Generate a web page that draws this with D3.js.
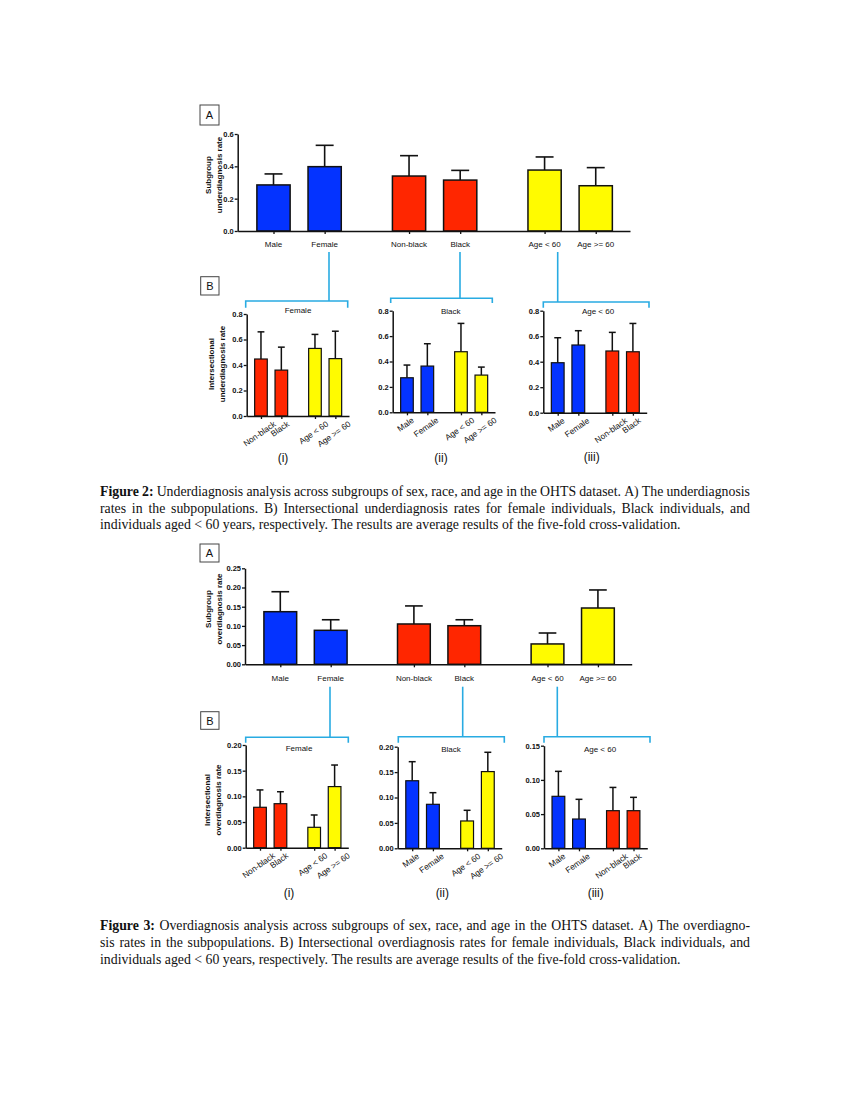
<!DOCTYPE html>
<html>
<head>
<meta charset="utf-8">
<script src="https://cdn.jsdelivr.net/npm/d3@7"></script>
<style>
  html, body { margin: 0; padding: 0; background: #fff; }
  svg text { font-family: Arial, "Liberation Sans", Helvetica, sans-serif; }
  svg text.cap { font-family: "Liberation Serif", "Times New Roman", serif; }
</style>
</head>
<body>
<svg id="chart" width="850" height="1100"></svg>
<script>
// ---------------- DATA ----------------
const subgroupCategories = ["Male", "Female", "Non-black", "Black", "Age < 60", "Age >= 60"];
const subgroupGroups = ["sex", "sex", "race", "race", "age", "age"];

// Figure 2 (underdiagnosis)
const underA_values = [0.285, 0.398, 0.340, 0.315, 0.377, 0.280];
const underA_errors = [0.068, 0.132, 0.126, 0.060, 0.081, 0.112];

const femaleCategories = ["Non-black", "Black", "Age < 60", "Age >= 60"];
const blackCategories = ["Male", "Female", "Age < 60", "Age >= 60"];
const ageCategories = ["Male", "Female", "Non-black", "Black"];

const underFemale_values = [0.447, 0.360, 0.530, 0.450];
const underFemale_errors = [0.213, 0.180, 0.110, 0.215];
const underBlack_values = [0.272, 0.364, 0.477, 0.293];
const underBlack_errors = [0.100, 0.176, 0.223, 0.063];
const underAge_values = [0.392, 0.531, 0.484, 0.478];
const underAge_errors = [0.196, 0.112, 0.146, 0.222];

// Figure 3 (overdiagnosis)
const overA_values = [0.137, 0.0885, 0.105, 0.1005, 0.053, 0.1466];
const overA_errors = [0.052, 0.0275, 0.047, 0.0155, 0.0285, 0.047];

const overFemale_values = [0.0787, 0.0857, 0.0397, 0.119];
const overFemale_errors = [0.0338, 0.0233, 0.0240, 0.042];
const overBlack_values = [0.133, 0.0866, 0.0538, 0.151];
const overBlack_errors = [0.0375, 0.0229, 0.0210, 0.038];
const overAge_values = [0.076, 0.0428, 0.055, 0.055];
const overAge_errors = [0.0365, 0.0288, 0.034, 0.0195];

const underTicksA = [0, 0.2, 0.4, 0.6];
const underTicksB = [0, 0.2, 0.4, 0.6, 0.8];
const overTicksA = [0, 0.05, 0.10, 0.15, 0.20, 0.25];
const overTicksB = [0, 0.05, 0.10, 0.15, 0.20];
const overTicksBage = [0, 0.05, 0.10, 0.15];

const groupOf = { "Male": "sex", "Female": "sex", "Non-black": "race", "Black": "race", "Age < 60": "age", "Age >= 60": "age" };
const groupColor = { sex: "#0433FF", race: "#FF2600", age: "#FFFB00" };

// ---------------- DRAWING ----------------
const svg = d3.select("#chart");
const CYAN = "#29abe2";

function slots(cats) {
  let gaps = 0;
  return cats.map((c, i) => {
    if (i > 0 && groupOf[c] !== groupOf[cats[i - 1]]) gaps++;
    return i + gaps * 0.65;
  });
}

function panel(o) {
  const s = slots(o.cats);
  const x = d3.scaleLinear().domain([-0.7, s[s.length - 1] + 0.67]).range([o.x0, o.x1]);
  const y = d3.scaleLinear().domain([0, o.ymax]).range([o.yBot, o.yTop]);
  const g = svg.append("g");
  const pitch = x(1) - x(0);
  const bw = pitch * o.barFrac;
  const data = o.cats.map((c, i) => ({ c, v: o.vals[i], e: o.errs[i], s: s[i] }));

  const eg = g.append("g").attr("stroke", "#111").attr("stroke-width", o.ew);
  eg.selectAll("line.v").data(data).join("line")
    .attr("x1", d => x(d.s)).attr("x2", d => x(d.s))
    .attr("y1", d => y(d.v)).attr("y2", d => y(d.v + d.e));
  eg.selectAll("line.c").data(data).join("line")
    .attr("x1", d => x(d.s) - bw * 0.27).attr("x2", d => x(d.s) + bw * 0.27)
    .attr("y1", d => y(d.v + d.e)).attr("y2", d => y(d.v + d.e));

  g.append("g").selectAll("rect").data(data).join("rect")
    .attr("x", d => x(d.s) - bw / 2).attr("width", bw)
    .attr("y", d => y(d.v)).attr("height", d => y(0) - y(d.v))
    .attr("fill", d => groupColor[groupOf[d.c]])
    .attr("stroke", "#111").attr("stroke-width", o.bs);

  const ya = g.append("g").attr("transform", `translate(${o.x0},0)`)
    .call(d3.axisLeft(y).tickValues(o.ticks).tickFormat(d3.format(o.fmt)).tickSize(3).tickSizeOuter(0));
  ya.select(".domain").attr("stroke", "#111").attr("stroke-width", 1.5);
  ya.selectAll(".tick line").attr("stroke", "#111").attr("stroke-width", 1.3);
  ya.selectAll(".tick text").attr("font-size", 7.5).attr("font-weight", "bold").attr("fill", "#111")
    .attr("x", -4).attr("font-family", "Arial, 'Liberation Sans', sans-serif");

  const xa = g.append("g").attr("transform", `translate(0,${o.yBot})`)
    .call(d3.axisBottom(x).tickValues(s).tickFormat("").tickSize(3).tickSizeOuter(0));
  xa.select(".domain").attr("stroke", "#111").attr("stroke-width", 1.5);
  xa.selectAll(".tick line").attr("stroke", "#111").attr("stroke-width", 1.3);

  if (o.rotate) {
    data.forEach(d => {
      const t = g.append("text").attr("font-size", 8.3).attr("fill", "#111")
        .attr("text-anchor", "middle").attr("dominant-baseline", "middle").text(d.c);
      const L = t.node().getComputedTextLength();
      const cy = o.yBot + 7.5 + (L / 2) * Math.sin(35 * Math.PI / 180);
      t.attr("transform", `translate(${x(d.s) - 1},${cy}) rotate(-35)`);
    });
  } else {
    g.selectAll("text.cat").data(data).join("text").attr("class", "cat")
      .attr("x", d => x(d.s)).attr("y", o.labelY)
      .attr("text-anchor", "middle").attr("font-size", 8).attr("fill", "#111")
      .text(d => d.c);
  }

  if (o.ylab) {
    o.ylab.forEach((line, i) => {
      g.append("text").attr("transform", `translate(${o.ylabX[i]},${o.ylabY}) rotate(-90)`)
        .attr("text-anchor", "middle").attr("font-size", 8).attr("font-weight", "bold").attr("fill", "#111")
        .text(line);
    });
  }
  if (o.title) {
    g.append("text").attr("x", o.title[1]).attr("y", o.title[2] + 3).attr("text-anchor", "middle")
      .attr("font-size", 8).attr("fill", "#111").text(o.title[0]);
  }
  if (o.roman) {
    g.append("text").attr("x", o.roman[1]).attr("y", o.roman[2] + 4.5).attr("text-anchor", "middle")
      .attr("font-size", 12).attr("fill", "#111").text(o.roman[0]);
  }
  if (o.bracket) {
    const b = o.bracket;
    svg.append("path").attr("fill", "none").attr("stroke", CYAN).attr("stroke-width", 1.6)
      .attr("d", `M${b.xl},${b.yt} V${b.y} H${b.xr} V${b.yt}`);
    svg.append("line").attr("stroke", CYAN).attr("stroke-width", 1.6)
      .attr("x1", b.cx).attr("x2", b.cx).attr("y1", b.cy0).attr("y2", b.y);
  }
}

function box(x, yy, w, h, letter) {
  svg.append("rect").attr("x", x).attr("y", yy).attr("width", w).attr("height", h)
    .attr("fill", "none").attr("stroke", "#444").attr("stroke-width", 1);
  svg.append("text").attr("x", x + w / 2).attr("y", yy + h / 2 + 4).attr("text-anchor", "middle")
    .attr("font-size", 11).attr("fill", "#111").text(letter);
}

// ---- Figure 2 ----
box(200, 105, 19, 20, "A");
panel({ cats: subgroupCategories, vals: underA_values, errs: underA_errors, x0: 237.7, x1: 630, yTop: 134, yBot: 231,
  ymax: 0.6, ticks: underTicksA, fmt: ".1f", barFrac: 0.65, bs: 1.5, ew: 1.6, labelY: 247,
  ylab: ["Subgroup", "underdiagnosis rate"], ylabX: [211, 222], ylabY: 175 });

box(200.7, 276.7, 18.3, 18.3, "B");
panel({ cats: femaleCategories, vals: underFemale_values, errs: underFemale_errors, x0: 246.7, x1: 349, yTop: 314, yBot: 416,
  ymax: 0.8, ticks: underTicksB, fmt: ".1f", barFrac: 0.62, bs: 1.2, ew: 1.5, rotate: true,
  ylab: ["Intersectional", "underdiagnosis rate"], ylabX: [214, 225], ylabY: 364,
  title: ["Female", 298, 310], roman: ["(i)", 283, 457],
  bracket: { xl: 245.7, xr: 347.7, y: 301, yt: 307.7, cx: 329, cy0: 252 } });
panel({ cats: blackCategories, vals: underBlack_values, errs: underBlack_errors, x0: 392.7, x1: 495, yTop: 310.7, yBot: 412.3,
  ymax: 0.8, ticks: underTicksB, fmt: ".1f", barFrac: 0.62, bs: 1.2, ew: 1.5, rotate: true,
  title: ["Black", 450.7, 311], roman: ["(ii)", 441, 457.7],
  bracket: { xl: 390.7, xr: 492.3, y: 298.3, yt: 303, cx: 460, cy0: 252 } });
panel({ cats: ageCategories, vals: underAge_values, errs: underAge_errors, x0: 543.3, x1: 646.7, yTop: 310.7, yBot: 412.7,
  ymax: 0.8, ticks: underTicksB, fmt: ".1f", barFrac: 0.62, bs: 1.2, ew: 1.5, rotate: true,
  title: ["Age < 60", 598, 311], roman: ["(iii)", 591.7, 456.7],
  bracket: { xl: 543.3, xr: 649, y: 302, yt: 307.7, cx: 557.7, cy0: 252 } });

// ---- Figure 3 ----
box(200, 544, 19, 18, "A");
panel({ cats: subgroupCategories, vals: overA_values, errs: overA_errors, x0: 245, x1: 631.7, yTop: 568.3, yBot: 664.3,
  ymax: 0.25, ticks: overTicksA, fmt: ".2f", barFrac: 0.65, bs: 1.5, ew: 1.6, labelY: 681,
  ylab: ["Subgroup", "overdiagnosis rate"], ylabX: [211, 222], ylabY: 609 });

box(200.7, 711.7, 18.3, 17.6, "B");
panel({ cats: femaleCategories, vals: overFemale_values, errs: overFemale_errors, x0: 245.7, x1: 348.3, yTop: 745, yBot: 847.7,
  ymax: 0.2, ticks: overTicksB, fmt: ".2f", barFrac: 0.62, bs: 1.2, ew: 1.5, rotate: true,
  ylab: ["Intersectional", "overdiagnosis rate"], ylabX: [210, 221], ylabY: 800,
  title: ["Female", 299, 748], roman: ["(i)", 289, 892.7],
  bracket: { xl: 245.7, xr: 348.3, y: 737.3, yt: 742.7, cx: 330, cy0: 686.7 } });
panel({ cats: blackCategories, vals: overBlack_values, errs: overBlack_errors, x0: 397.7, x1: 501.7, yTop: 746.7, yBot: 848.3,
  ymax: 0.2, ticks: overTicksB, fmt: ".2f", barFrac: 0.62, bs: 1.2, ew: 1.5, rotate: true,
  title: ["Black", 451, 748.7], roman: ["(ii)", 442.3, 892.7],
  bracket: { xl: 398.3, xr: 504.3, y: 736.7, yt: 742.7, cx: 462.7, cy0: 686.7 } });
panel({ cats: ageCategories, vals: overAge_values, errs: overAge_errors, x0: 544, x1: 647.3, yTop: 745.7, yBot: 848.3,
  ymax: 0.15, ticks: overTicksBage, fmt: ".2f", barFrac: 0.62, bs: 1.2, ew: 1.5, rotate: true,
  title: ["Age < 60", 600, 748.7], roman: ["(iii)", 595.7, 892.7],
  bracket: { xl: 544, xr: 650, y: 736.7, yt: 742.7, cx: 557.3, cy0: 686.7 } });

// ---- Captions ----
const capSize = 13.8;
function capLine(text, y, justify, boldCount) {
  const words = text.split(" ").filter(w => w.length);
  const nodes = words.map((w, i) => svg.append("text").attr("class", "cap").attr("y", y)
    .attr("font-size", capSize).attr("fill", "#111")
    .attr("font-weight", i < boldCount ? "bold" : "normal").text(w));
  const widths = nodes.map(n => n.node().getComputedTextLength());
  const total = d3.sum(widths);
  const space = justify ? (650 - total) / (words.length - 1) : capSize * 0.25;
  let xx = 100;
  nodes.forEach((n, i) => { n.attr("x", xx); xx += widths[i] + space; });
}
capLine("Figure 2: Underdiagnosis analysis across subgroups of sex, race, and age in the OHTS dataset. A) The underdiagnosis", 496, true, 2);
capLine("rates in the subpopulations.  B) Intersectional underdiagnosis rates for female individuals, Black individuals, and", 512.5, true, 0);
capLine("individuals aged < 60 years, respectively. The results are average results of the five-fold cross-validation.", 529, false, 0);
capLine("Figure 3: Overdiagnosis analysis across subgroups of sex, race, and age in the OHTS dataset. A) The overdiagno-", 930, true, 2);
capLine("sis rates in the subpopulations. B) Intersectional overdiagnosis rates for female individuals, Black individuals, and", 947, true, 0);
capLine("individuals aged < 60 years, respectively. The results are average results of the five-fold cross-validation.", 964, false, 0);
</script>
</body>
</html>
